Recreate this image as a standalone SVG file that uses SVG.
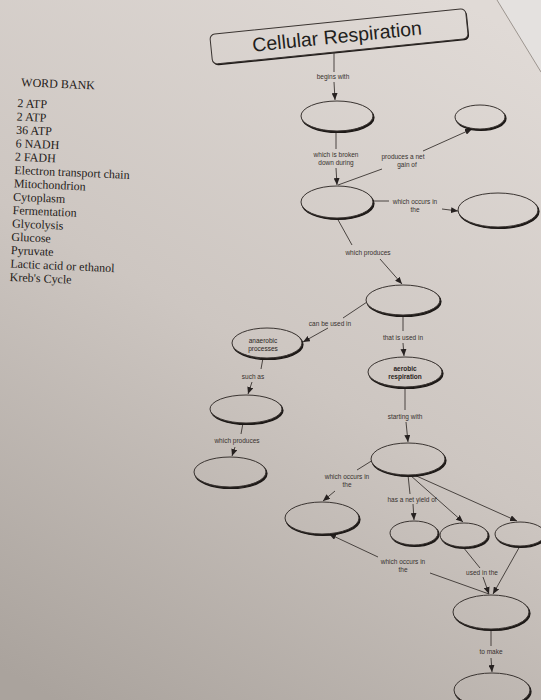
<svg xmlns="http://www.w3.org/2000/svg" width="541" height="700" viewBox="0 0 541 700">
<defs>
<linearGradient id="bg" gradientUnits="userSpaceOnUse" x1="460" y1="0" x2="54" y2="700">
<stop offset="0" stop-color="#e0dad6"/>
<stop offset="0.5" stop-color="#cdc6c1"/>
<stop offset="1" stop-color="#aaa39d"/>
</linearGradient>
<marker id="ah" markerUnits="userSpaceOnUse" markerWidth="8" markerHeight="6" refX="7" refY="3" orient="auto">
<path d="M0,0 L7,3 L0,6 z" fill="#262120"/>
</marker>
<style>
.wb{font-family:"Liberation Serif","Times New Roman",serif;font-size:12px;fill:#1f1b19}
.lb{font-family:"Liberation Sans",Arial,sans-serif;font-size:6.5px;fill:#37312e;text-anchor:middle}
.in{font-family:"Liberation Sans",Arial,sans-serif;font-size:6.5px;fill:#2a2522;text-anchor:middle}
.b{font-weight:bold}
.sh{fill:#1c1816;stroke:#1c1816;stroke-width:1.2}
.el{fill:url(#bg);stroke:#3a3431;stroke-width:1}
.cn line{stroke:#3a3431;stroke-width:0.9}
.ar{marker-end:url(#ah)}
</style>
</defs>
<rect width="541" height="700" fill="url(#bg)"/>
<polygon points="497,0 541,0 541,72" fill="#e4e1df"/>
<line x1="497" y1="0" x2="541" y2="72" stroke="#9c958f" stroke-width="1"/>

<g id="word-bank" transform="rotate(2.5 14 180)">
<text class="wb" x="17" y="86">WORD BANK</text>
<text class="wb" x="14" y="107">2 ATP</text>
<text class="wb" x="14" y="120.4">2 ATP</text>
<text class="wb" x="14" y="133.8">36 ATP</text>
<text class="wb" x="14" y="147.1">6 NADH</text>
<text class="wb" x="14" y="160.5">2 FADH</text>
<text class="wb" x="14" y="173.9">Electron transport chain</text>
<text class="wb" x="14" y="187.3">Mitochondrion</text>
<text class="wb" x="14" y="200.7">Cytoplasm</text>
<text class="wb" x="14" y="214">Fermentation</text>
<text class="wb" x="14" y="227.4">Glycolysis</text>
<text class="wb" x="14" y="240.8">Glucose</text>
<text class="wb" x="14" y="254.2">Pyruvate</text>
<text class="wb" x="14" y="267.6">Lactic acid or ethanol</text>
<text class="wb" x="14" y="281">Kreb's Cycle</text>
</g>

<g id="title" transform="rotate(-5.8 338.5 36)">
<rect x="211.5" y="23" width="257" height="30" rx="5" fill="#1c1816"/>
<rect x="210.5" y="21.5" width="257" height="30" rx="5" fill="url(#bg)" stroke="#3a3431" stroke-width="1"/>
<text x="337" y="43" font-family="'Liberation Sans',Arial,sans-serif" font-size="19.5" fill="#221e1c" text-anchor="middle">Cellular Respiration</text>
</g>

<g id="connectors" class="cn">
<line x1="334" y1="52" x2="334" y2="72"/>
<line class="ar" x1="334" y1="82" x2="335" y2="100"/>
<line x1="336" y1="131" x2="336" y2="149"/>
<line class="ar" x1="336" y1="168" x2="337" y2="185"/>
<line x1="338" y1="185" x2="382" y2="169"/>
<line class="ar" x1="423" y1="151" x2="472" y2="129"/>
<line x1="373" y1="201" x2="389" y2="201"/>
<line class="ar" x1="442" y1="209" x2="458" y2="211"/>
<line x1="337" y1="218" x2="352" y2="245"/>
<line class="ar" x1="380" y1="259" x2="402" y2="284"/>
<line x1="367" y1="302" x2="343" y2="318"/>
<line class="ar" x1="328" y1="328" x2="303" y2="342"/>
<line x1="403" y1="315" x2="403" y2="331"/>
<line class="ar" x1="403" y1="343" x2="404" y2="356"/>
<line x1="263" y1="358" x2="261" y2="369"/>
<line class="ar" x1="252" y1="382" x2="248" y2="394"/>
<line x1="243" y1="423" x2="241" y2="434"/>
<line class="ar" x1="235" y1="447" x2="232" y2="456"/>
<line x1="405" y1="387" x2="405" y2="410"/>
<line class="ar" x1="406" y1="422" x2="408" y2="442"/>
<line x1="373" y1="460" x2="357" y2="470"/>
<line class="ar" x1="335" y1="491" x2="323" y2="501"/>
<line x1="408" y1="475" x2="410" y2="494"/>
<line class="ar" x1="413" y1="504" x2="414" y2="520"/>
<line class="ar" x1="410" y1="475" x2="463" y2="522"/>
<line class="ar" x1="412" y1="474" x2="517" y2="521"/>
<line class="ar" x1="378" y1="557" x2="329" y2="534"/>
<line x1="430" y1="573" x2="489" y2="594"/>
<line x1="463" y1="547" x2="480" y2="568"/>
<line class="ar" x1="483" y1="577" x2="489" y2="594"/>
<line class="ar" x1="520" y1="546" x2="493" y2="594"/>
<line x1="491" y1="629" x2="491" y2="646"/>
<line class="ar" x1="491" y1="658" x2="492" y2="672"/>
<text class="lb" x="333" y="79">begins with</text>
<text class="lb" x="336" y="157">which is broken</text>
<text class="lb" x="336" y="165">down during</text>
<text class="lb" x="403" y="159">produces a net</text>
<text class="lb" x="407" y="167">gain of</text>
<text class="lb" x="415" y="204">which occurs in</text>
<text class="lb" x="415" y="212">the</text>
<text class="lb" x="368" y="255">which produces</text>
<text class="lb" x="330" y="326">can be used in</text>
<text class="lb" x="403" y="340">that is used in</text>
<text class="lb" x="253" y="379">such as</text>
<text class="lb" x="237" y="443">which produces</text>
<text class="lb" x="405" y="419">starting with</text>
<text class="lb" x="347" y="479">which occurs in</text>
<text class="lb" x="347" y="487">the</text>
<text class="lb" x="412" y="502">has a net yield of</text>
<text class="lb" x="403" y="564">which occurs in</text>
<text class="lb" x="403" y="572">the</text>
<text class="lb" x="482" y="575">used in the</text>
<text class="lb" x="491" y="654">to make</text>
</g>

<g id="n-glucose"><ellipse class="sh" cx="338" cy="117.5" rx="36" ry="15"/><ellipse class="el" cx="337" cy="116" rx="36" ry="15"/></g>
<g id="n-atp-top"><ellipse class="sh" cx="481" cy="118.5" rx="25" ry="12"/><ellipse class="el" cx="480" cy="117" rx="25" ry="12"/></g>
<g id="n-glycolysis"><ellipse class="sh" cx="338" cy="203.5" rx="36" ry="16"/><ellipse class="el" cx="337" cy="202" rx="36" ry="16"/></g>
<g id="n-cytoplasm-top"><ellipse class="sh" cx="499" cy="211.5" rx="40" ry="17"/><ellipse class="el" cx="498" cy="210" rx="40" ry="17"/></g>
<g id="n-pyruvate"><ellipse class="sh" cx="404" cy="301.5" rx="37" ry="15"/><ellipse class="el" cx="403" cy="300" rx="37" ry="15"/></g>
<g id="n-anaerobic"><ellipse class="sh" cx="268" cy="344.5" rx="35" ry="15"/><ellipse class="el" cx="267" cy="343" rx="35" ry="15"/><text class="in" x="263" y="343">anaerobic</text><text class="in" x="263" y="351">processes</text></g>
<g id="n-aerobic"><ellipse class="sh" cx="406" cy="373.5" rx="37" ry="15"/><ellipse class="el" cx="405" cy="372" rx="37" ry="15"/><text class="in b" x="405" y="371">aerobic</text><text class="in b" x="405" y="379">respiration</text></g>
<g id="n-fermentation"><ellipse class="sh" cx="247" cy="410.5" rx="36" ry="14"/><ellipse class="el" cx="246" cy="409" rx="36" ry="14"/></g>
<g id="n-lactic"><ellipse class="sh" cx="231" cy="473.5" rx="36" ry="15"/><ellipse class="el" cx="230" cy="472" rx="36" ry="15"/></g>
<g id="n-krebs"><ellipse class="sh" cx="409" cy="460.5" rx="37" ry="16"/><ellipse class="el" cx="408" cy="459" rx="37" ry="16"/></g>
<g id="n-mitochondrion"><ellipse class="sh" cx="323" cy="519.5" rx="37" ry="16"/><ellipse class="el" cx="322" cy="518" rx="37" ry="16"/></g>
<g id="n-yield-a"><ellipse class="sh" cx="415" cy="534.5" rx="24" ry="12"/><ellipse class="el" cx="414" cy="533" rx="24" ry="12"/></g>
<g id="n-yield-b"><ellipse class="sh" cx="465" cy="536.5" rx="24" ry="12"/><ellipse class="el" cx="464" cy="535" rx="24" ry="12"/></g>
<g id="n-yield-c"><ellipse class="sh" cx="521" cy="535.5" rx="25" ry="12"/><ellipse class="el" cx="520" cy="534" rx="25" ry="12"/></g>
<g id="n-etc"><ellipse class="sh" cx="492" cy="613.5" rx="38" ry="17"/><ellipse class="el" cx="491" cy="612" rx="38" ry="17"/></g>
<g id="n-final"><ellipse class="sh" cx="493" cy="691.5" rx="38" ry="17"/><ellipse class="el" cx="492" cy="690" rx="38" ry="17"/></g>
</svg>
